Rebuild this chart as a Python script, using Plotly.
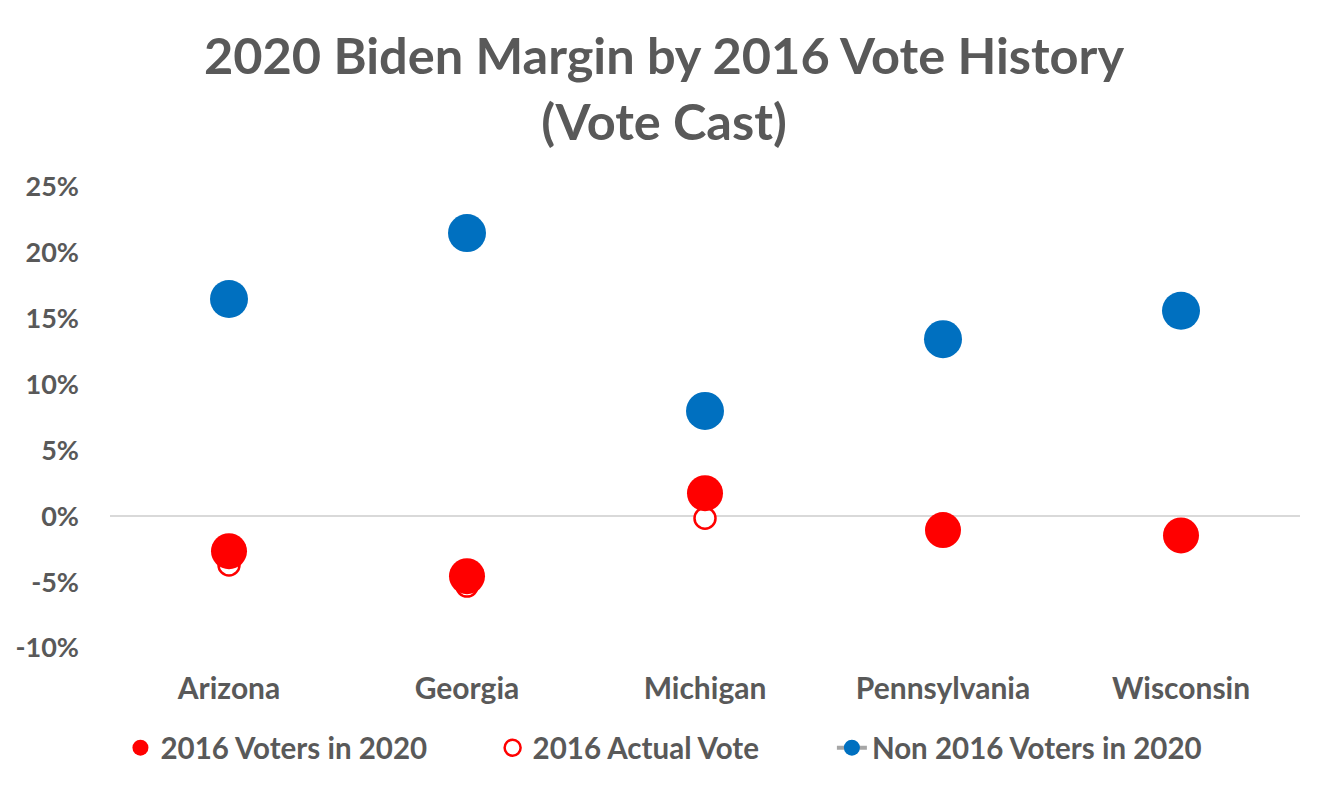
import plotly.graph_objects as go

states = ["Arizona", "Georgia", "Michigan", "Pennsylvania", "Wisconsin"]
voters_2016_in_2020 = [-2.65, -4.55, 1.75, -1.05, -1.45]
actual_2016 = [-3.7, -5.3, -0.15, -1.0, -1.15]
non_2016_voters = [16.5, 21.5, 8.0, 13.45, 15.6]
tick_vals = [-10, -5, 0, 5, 10, 15, 20, 25]
tick_text = ["-10%", "-5%", "0%", "5%", "10%", "15%", "20%", "25%"]

FONT = "Lato"
GRAY = "#595959"

fig = go.Figure()
fig.add_trace(go.Scatter(
    x=states, y=non_2016_voters, mode="markers", showlegend=False,
    marker=dict(color="#0070C0", size=38, line=dict(width=0)),
))
fig.add_trace(go.Scatter(
    x=states, y=actual_2016, mode="markers", name="<b>2016 Actual Vote</b>" + "&nbsp;" * 9,
    legendrank=2,
    marker=dict(color="white", size=21, line=dict(color="#FF0000", width=2.5)),
))
fig.add_trace(go.Scatter(
    x=states, y=voters_2016_in_2020, mode="markers", name="<b>2016 Voters in 2020</b>" + "&nbsp;" * 8,
    legendrank=1,
    marker=dict(color="#FF0000", size=36, line=dict(width=0)),
))
fig.add_trace(go.Scatter(
    x=[None], y=[None], mode="lines+markers", name="<b>Non 2016 Voters in 2020</b>",
    legendrank=3,
    line=dict(color="#A6A6A6", width=4),
    marker=dict(color="#0070C0", size=16),
))

fig.update_layout(
    width=1328, height=794,
    paper_bgcolor="white", plot_bgcolor="white",
    margin=dict(l=110, r=28, t=187, b=146, autoexpand=False),
    font=dict(family=FONT, color=GRAY),
    legend=dict(
        orientation="h", x=0.4655, xanchor="center", y=-0.217, yanchor="middle",
        font=dict(family=FONT, size=29.5, color=GRAY),
        itemsizing="trace",
    ),
    showlegend=True,
    annotations=[dict(
        text="<b>2020 Biden Margin by 2016 Vote History<br>(Vote Cast)</b>",
        xref="paper", yref="paper", x=0.4655, y=1.2148,
        xanchor="center", yanchor="middle", showarrow=False,
        font=dict(family=FONT, size=50.5, color=GRAY),
    )],
)
fig.update_xaxes(
    range=[-0.5, 4.5],
    showgrid=False, zeroline=False, showline=False, ticks="",
    tickfont=dict(family=FONT, size=30, color=GRAY),
    tickprefix="<b>", ticksuffix="</b>", ticklabelstandoff=20,
)
fig.update_yaxes(
    range=[-10, 25], tickvals=tick_vals, ticktext=["<b>" + t + "</b>" for t in tick_text],
    showgrid=False, zeroline=True, zerolinecolor="#D9D9D9", zerolinewidth=2,
    showline=False, ticks="", ticklen=0,
    tickfont=dict(family=FONT, size=27, color=GRAY), ticklabelstandoff=30,
)

fig.write_html("out.html")
